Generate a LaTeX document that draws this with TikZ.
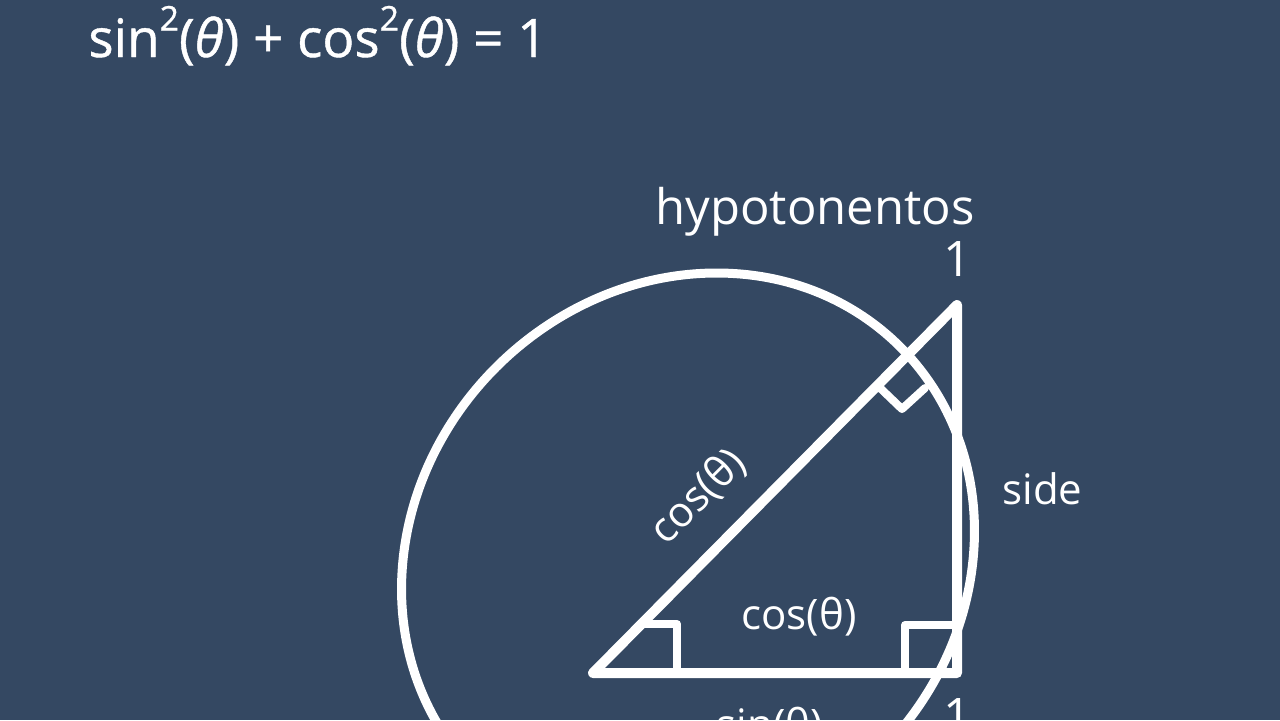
\documentclass[tikz,border=0pt]{standalone}
\usepackage{fontspec}
\setmainfont{Open Sans}
\newfontfamily\headfont[FakeBold=0.8]{Open Sans}
\definecolor{bg}{RGB}{52,72,98}
\newcommand\suptwo{\raisebox{0.5em}{\fontsize{17}{17}\selectfont 2}}
\begin{document}
\begin{tikzpicture}[x=0.5pt,y=-0.5pt,
  ink/.style={draw=white,line width=5pt,line join=round,line cap=round},
  ring/.style={draw=white,line width=4.5pt},
  anglemark/.style={draw=white,line width=4pt,line join=round,line cap=round},
  lbl/.style={text=white,inner sep=0pt,font=\fontsize{21}{24}\selectfont},
  big/.style={text=white,inner sep=0pt,font=\fontsize{24.5}{28}\selectfont},
  head/.style={text=white,inner sep=0pt,font=\headfont\fontsize{26.5}{30}\selectfont}]
\path[fill=bg,use as bounding box] (0,0) rectangle (1280,720);
% sheared circle
\coordinate (O) at (688,560);
\draw[ring,shift={(O)},xslant=0.1] (0,0) ellipse [x radius=285, y radius=287];
% triangle
\coordinate (A) at (593,673);
\coordinate (B) at (957,673);
\coordinate (C) at (957,305);
\draw[ink] (A) -- (B) -- (C) -- cycle;
% right-angle marks
\coordinate (m1) at (642,624);
\coordinate (m2) at (677,624);
\coordinate (m3) at (677,673);
\draw[anglemark] (m1) -- (m2) -- (m3);
\coordinate (n1) at (905,673);
\coordinate (n2) at (905,625);
\coordinate (n3) at (957,625);
\draw[anglemark] (n1) -- (n2) -- (n3);
\coordinate (p1) at (878,386);
\coordinate (p2) at (902,409);
\coordinate (p3) at (925,388);
\draw[anglemark] (p1) -- (p2) -- (p3);
% labels
\node[head,anchor=base west] (formula) at (88,57)
  {sin\suptwo(\textit{θ}) + cos\suptwo(\textit{θ}) = 1};
\node[big,anchor=base west] (hyp) at (655,224) {hypotonentos};
\node[big,anchor=base] (one1) at (957,276) {1};
\node[lbl,rotate=45] (cosh) at (698,497) {cos(θ)};
\node[lbl] (cosb) at (799,617) {cos(θ)};
\node[lbl,anchor=west] (side) at (1002,489) {side};
\node[big,anchor=base] (one2) at (957,733) {1};
\node[lbl,anchor=north] (sinb) at (770,707) {sin(θ)};
\end{tikzpicture}
\end{document}
